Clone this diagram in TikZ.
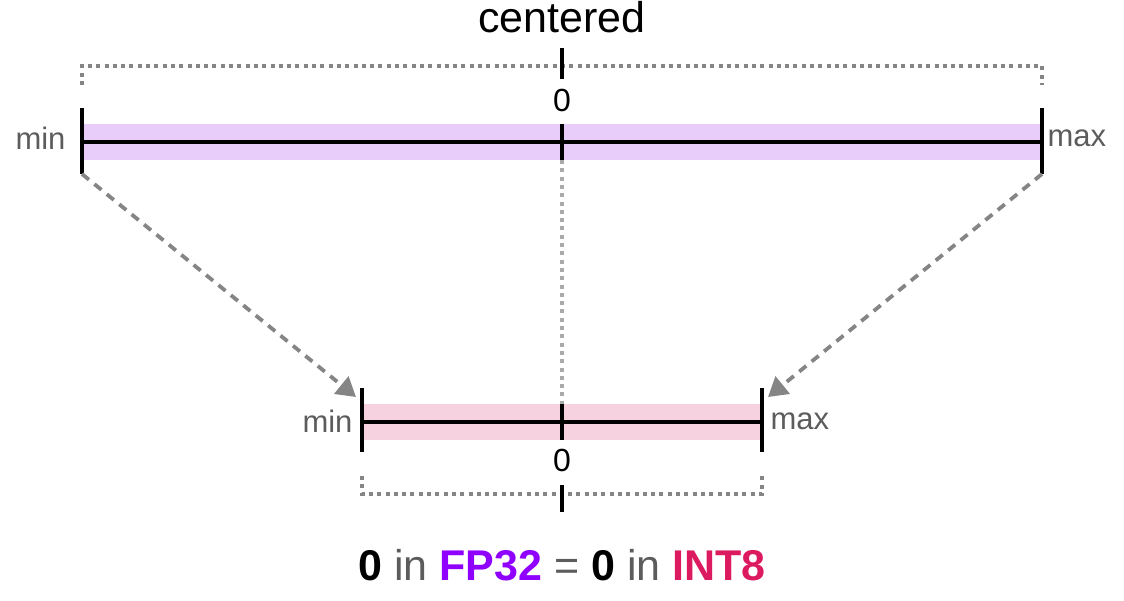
\documentclass[tikz,border=0pt]{standalone}
\usepackage{fontspec}
\setmainfont{Liberation Sans}
\usetikzlibrary{arrows.meta}
\definecolor{fpband}{HTML}{E8CCFA}
\definecolor{intband}{HTML}{F6D2E0}
\definecolor{fpcol}{HTML}{9000FF}
\definecolor{intcol}{HTML}{DC1A5F}
\definecolor{lblgray}{HTML}{5C5C5C}
\definecolor{guidegray}{HTML}{858585}
\begin{document}
\begin{tikzpicture}[x=1pt,y=-1pt,
  bar/.style={line width=4.2pt},
  dotline/.style={draw=guidegray,line width=4pt,dash pattern=on 4pt off 4.3pt},
  maparrow/.style={draw=guidegray,line width=3.8pt,dash pattern=on 9pt off 7pt,
    -{Triangle[width=22pt,length=19pt,fill=guidegray]}},
  lbl/.style={text=lblgray,font=\fontsize{31}{34}\selectfont},
  zero/.style={font=\fontsize{32}{34}\selectfont}]
  \useasboundingbox (0,0) rectangle (1124,600);
  % FP32 range
  \fill[fpband] (82,124) rectangle (1042,160);
  \draw[bar] (82,142) -- (1042,142);
  \draw[bar] (82,108) coordinate (fptop) -- (82,174) coordinate (fpmin);
  \draw[bar] (1042,108) -- (1042,174) coordinate (fpmax);
  \draw[bar] (562,124) coordinate (fpzero) -- (562,160) coordinate (fpzerob);
  \draw (69,138) node[lbl,left] (fpminlbl) {min};
  \draw (1044,138) node[lbl,right] (fpmaxlbl) {max};
  \draw (562,100) node[zero] (fpzerolbl) {0};
  \draw[dotline] (82,85) -- (82,66) -- (1042,66) -- (1042,85);
  \draw[bar] (562,48) -- (562,79);
  \draw (562,17) node[font=\fontsize{43}{46}\selectfont] (title) {centered};
  % INT8 range
  \fill[intband] (362,404) rectangle (762,440);
  \draw[bar] (362,388) coordinate (intmin) -- (362,452);
  \draw[bar] (762,388) coordinate (intmax) -- (762,452);
  \draw[bar] (362,422) -- (762,422);
  \draw[bar] (562,404) coordinate (intzero) -- (562,440);
  \draw (356,421) node[lbl,left] (intminlbl) {min};
  \draw (767,421) node[lbl,right] (intmaxlbl) {max};
  \draw (562,460) node[zero] (intzerolbl) {0};
  \draw[dotline] (362,476) -- (362,494) -- (762,494) -- (762,476);
  \draw[bar] (562,485) -- (562,512);
  % mapping
  \draw[dotline,draw=guidegray!70,line width=3.4pt] (fpzerob) -- (intzero);
  \draw[maparrow] (fpmin) -- ([xshift=-6pt,yshift=-9pt]intmin);
  \draw[maparrow] (fpmax) -- ([xshift=6pt,yshift=-9pt]intmax);
  \draw (562,565) node[font=\fontsize{43}{46}\selectfont] (summary)
    {\textbf{0} {\color{lblgray}in} \textcolor{fpcol}{\textbf{FP32}} {\color{lblgray}=} \textbf{0} {\color{lblgray}in} \textcolor{intcol}{\textbf{INT8}}};
\end{tikzpicture}
\end{document}
